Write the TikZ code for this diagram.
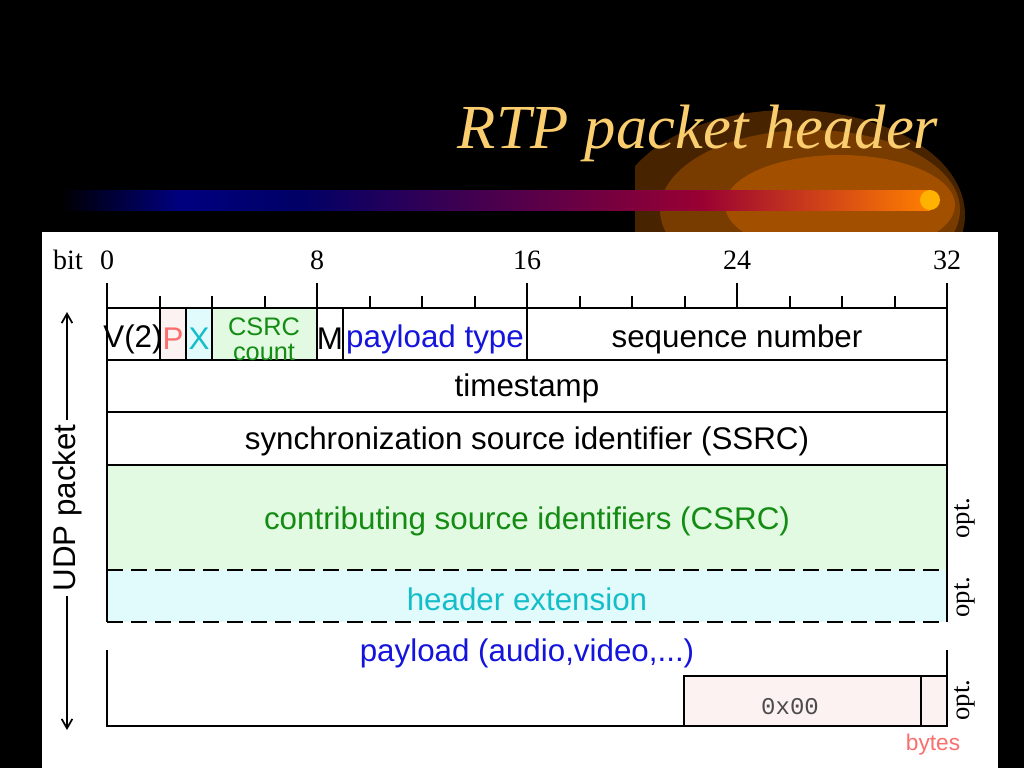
\documentclass[tikz,border=0pt]{standalone}
\usepackage{fontspec}
\setmainfont{Liberation Serif}
\setsansfont{Liberation Sans}
\setmonofont{Liberation Mono}
\usetikzlibrary{arrows.meta}
\definecolor{gold}{RGB}{250,205,110}
\definecolor{cgreen}{RGB}{20,140,20}
\definecolor{cblue}{RGB}{20,20,220}
\definecolor{ccyan}{RGB}{20,190,200}
\definecolor{cpink}{RGB}{250,110,110}
\definecolor{fgreen}{RGB}{225,250,225}
\definecolor{fcyan}{RGB}{225,250,252}
\definecolor{fpink}{RGB}{252,242,242}
\begin{document}
\begin{tikzpicture}[x=0.75pt,y=-0.75pt,
  lab/.style={font=\sffamily\fontsize{23.5}{23.5}\selectfont,inner sep=0pt},
  num/.style={font=\fontsize{21}{21}\selectfont,inner sep=0pt},
  optl/.style={font=\fontsize{20}{20}\selectfont,rotate=90,inner sep=0pt},
  ln/.style={line width=1.5pt}]
\useasboundingbox (0,0) rectangle (1024,768);
\fill[black] (0,0) rectangle (1024,768);
% glow
\begin{scope}
\clip (635,100) rectangle (1024,232);
\fill[orange!40!black,opacity=0.7] (790,215) ellipse (175 and 105);
\fill[orange!60!black,opacity=0.6] (810,210) ellipse (150 and 80);
\fill[orange!80!black,opacity=0.5] (840,205) ellipse (115 and 50);
\end{scope}
\shade[left color=black,right color=blue!40!black,middle color=blue!50!black] (60,190) rectangle (300,210);
\shade[left color=blue!40!black,right color=purple!80!black] (300,190) rectangle (700,210);
\shade[left color=purple!80!black,right color=orange] (700,190) rectangle (930,210);
\fill[orange!60!yellow] (930,200) circle (10);
\node[font=\itshape\fontsize{47}{47}\selectfont,text=gold] (title) at (698,133) {RTP packet header};
% panel
\fill[white] (42,232) rectangle (998,768);
% fills
\fill[fgreen] (107,465) rectangle (947,570);
\fill[fcyan] (107,570) rectangle (947,622);
\fill[fpink] (160,308) rectangle (186,360);
\fill[fcyan] (186,308) rectangle (212,360);
\fill[fgreen] (212,308) rectangle (317,360);
\fill[fpink] (684,676) rectangle (947,726);
% ticks
\foreach \b in {0,2,...,32}{\draw[ln] ({107+26.25*\b},296) -- ({107+26.25*\b},308);}
\foreach \b in {0,8,16,24,32}{\draw[ln] ({107+26.25*\b},283) -- ({107+26.25*\b},308);
  \node[num] at ({107+26.25*\b},260) {\b};}
\node[num] (bit) at (68,260) {bit};
% grid
\draw[ln] (107,308) rectangle (947,465);
\draw[ln] (107,360) -- (947,360);
\draw[ln] (107,412) -- (947,412);
\draw[ln] (107,465) -- (107,622);
\draw[ln] (947,465) -- (947,622);
\draw[ln,dash pattern=on 12pt off 6pt] (107,570) -- (947,570);
\draw[ln,dash pattern=on 12pt off 6pt] (107,622) -- (947,622);
\foreach \x in {160,186,212,317,343,527}{\draw[ln] (\x,308) -- (\x,360);}
\draw[ln] (107,650) -- (107,726) -- (947,726) -- (947,650);
\draw[ln] (684,726) -- (684,676) -- (947,676);
\draw[ln] (921,676) -- (921,726);
% labels
\node[lab] at (133,339) {V(2)};
\node[lab,text=cpink] at (173,339) {P};
\node[lab,text=ccyan] at (199,339) {X};
\node[lab,text=cgreen,align=center,font=\sffamily\fontsize{19}{18.5}\selectfont] at (264,339) {CSRC\\count};
\node[lab] at (330,339) {M};
\node[lab,text=cblue] at (435,339) {payload type};
\node[lab] at (737,339) {sequence number};
\node[lab] at (527,388) {timestamp};
\node[lab] at (527,441) {synchronization source identifier (SSRC)};
\node[lab,text=cgreen] at (527,521) {contributing source identifiers (CSRC)};
\node[lab,text=ccyan] at (527,599) {header extension};
\node[lab,text=cblue] at (527,653) {payload (audio,video,...)};
\node[font=\ttfamily\fontsize{18}{18}\selectfont,text=black!70,inner sep=0pt] at (790,707) {0x00};
\node[lab,text=cpink,font=\sffamily\fontsize{17}{17}\selectfont] at (933,745) {bytes};
\node[optl] at (965,518) {opt.};
\node[optl] at (965,597) {opt.};
\node[optl] at (965,700) {opt.};
% UDP arrow
\node[lab,rotate=90,inner sep=3pt] (udp) at (67,508) {UDP packet};
\draw[line width=1.3pt,-{Straight Barb[length=7pt,width=8pt]}] (udp.east) -- (67,312);
\draw[line width=1.3pt,-{Straight Barb[length=7pt,width=8pt]}] (udp.west) -- (67,730);
\end{tikzpicture}
\end{document}
